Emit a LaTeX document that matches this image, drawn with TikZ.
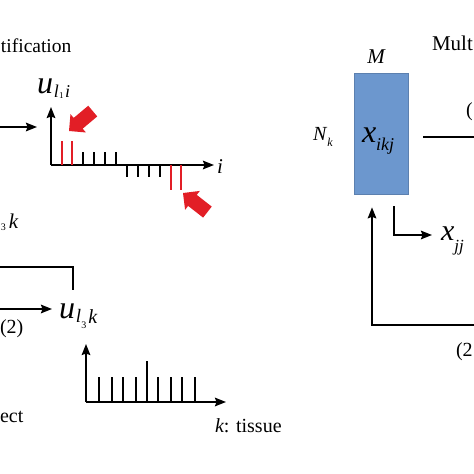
\documentclass[tikz,border=0pt]{standalone}
\usepackage{fontspec}
\setmainfont{Liberation Serif}
\usetikzlibrary{arrows.meta}
\definecolor{boxblue}{RGB}{108,151,206}
\definecolor{hlred}{RGB}{226,30,38}
\newcommand{\fsz}[1]{\fontsize{#1}{#1}\selectfont}
\tikzset{
  ln/.style={line width=2pt},
  arr/.style={line width=2pt,-{Stealth[length=11pt,width=8.5pt,inset=1.5pt]}},
  barline/.style={line width=2pt},
  redbar/.style={line width=2pt,draw=hlred},
  lbl/.style={inner sep=0pt,outer sep=0pt,anchor=base west},
  redarr/.pic={\fill[hlred] (0,0) -- (-12pt,12pt) -- (-12pt,7pt) -- (-31pt,7pt) -- (-31pt,-7pt) -- (-12pt,-7pt) -- (-12pt,-12pt) -- cycle;}
}
\begin{document}
\begin{tikzpicture}[x=1pt,y=-1pt]
\useasboundingbox (0,0) rectangle (474,474);

% ---------- top left: identification ----------
\node[lbl] (tif) at (1,52) {\fsz{19.5}tification};
\node[lbl] (u1) at (37,93) {\fsz{32}\itshape u\kern1pt\raisebox{-4pt}{\fsz{18}l\raisebox{-1.5pt}{\fsz{9}\upshape 1}\kern1.5pt i}};
\coordinate (inA) at (0,127);
\coordinate (inAend) at (37,127);
\draw[arr] (inA) -- (inAend);
\coordinate (o1) at (51,165);
\coordinate (y1) at (51,107);
\coordinate (x1) at (214,165);
\draw[arr] (o1) -- (y1);
\draw[arr] (o1) -- (x1);
\node[lbl] (ilab) at (217,173) {\fsz{21}\itshape i};
\foreach \x in {62,72} \draw[redbar] (\x,165) -- (\x,141);
\foreach \x in {83,94,105,116} \draw[barline] (\x,165) -- (\x,152);
\foreach \x in {127,138,149,160} \draw[barline] (\x,165) -- (\x,177);
\foreach \x in {171,181} \draw[redbar] (\x,165) -- (\x,190);
\pic[rotate=220] at (69,131) {redarr};
\pic[rotate=142] at (183,193) {redarr};

\node[lbl] (u3a) at (1,228) {\raisebox{-2pt}{\fsz{10}3}\kern3pt\fsz{21}\itshape k};

% ---------- middle left ----------
\coordinate (inB) at (0,267);
\coordinate (inBend) at (73,290);
\draw[ln] (inB) -| (inBend);
\coordinate (inC) at (0,309);
\coordinate (inCend) at (52,309);
\draw[arr] (inC) -- (inCend);
\node[lbl] (eq2) at (0,333) {\fsz{20}(2)};
\node[lbl] (u3) at (59,318) {\fsz{32}\itshape u\kern1pt\raisebox{-4pt}{\fsz{19}l\raisebox{-6pt}{\fsz{10}\upshape 3}}\kern2pt\raisebox{-5pt}{\fsz{20}k}};

\coordinate (o2) at (86,402);
\coordinate (y2) at (86,344);
\coordinate (x2) at (226,402);
\draw[arr] (o2) -- (y2);
\draw[arr] (o2) -- (x2);
\foreach \x in {99,112,123,136,158,171,182,195} \draw[barline] (\x,402) -- (\x,377);
\draw[barline] (147,402) -- (147,361);
\node[lbl] (ect) at (0,422) {\fsz{20}ect};
\node[lbl] (tissue) at (215,432) {\fsz{20}\itshape k\upshape: tissue};

% ---------- right ----------
\node[lbl] (mult) at (432,50) {\fsz{21}Mult};
\node[anchor=base] (M) at (376,63) {\fsz{21}\itshape M};
\node[fill=boxblue,draw=boxblue!85!black,line width=0.3pt,minimum width=54pt,minimum height=121pt,inner sep=0pt,anchor=north west] (X) at (354,73) {};
\node[lbl] (xikj) at (362,142) {\fsz{32}\itshape x\raisebox{-8pt}{\fsz{18}ikj}};
\node[lbl] (Nk) at (313,140) {\fsz{20}\itshape N\kern1pt\raisebox{-6pt}{\fsz{12}k}};
\coordinate (h0) at (423,137);
\coordinate (h1) at (476,137);
\draw[ln] (h0) -- (h1);
\node[lbl] (par) at (466,116) {\fsz{20}(};
\coordinate (r0) at (394,206);
\coordinate (r1) at (432,235);
\draw[arr] (r0) |- (r1);
\node[lbl] (xjj) at (441,240) {\fsz{30}\itshape x\raisebox{-11pt}{\fsz{17}jj}};
\coordinate (b0) at (476,325);
\coordinate (b1) at (372,325);
\draw[arr] (b0) -- (b1) -- ([yshift=-13pt]X.south -| b1);
\node[lbl] (eq2b) at (456,356) {\fsz{20}(2};
\end{tikzpicture}
\end{document}
